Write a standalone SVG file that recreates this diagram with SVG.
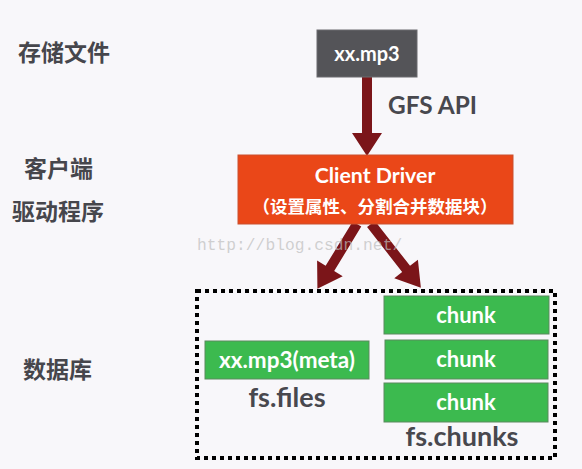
<svg xmlns="http://www.w3.org/2000/svg" width="582" height="469" viewBox="0 0 582 469">
<style>
.lbl{font-family:"Noto Sans CJK SC","Noto Sans",sans-serif;font-weight:700;font-size:23px;fill:#46464c}
.big{font-family:Lato,"Noto Sans",sans-serif;font-weight:700;fill:#48484e}
.wt{font-family:Lato,"Noto Sans","Noto Sans CJK SC",sans-serif;font-weight:700;fill:#ffffff;text-anchor:middle}
.green{fill:#3cba4f;stroke:#5a8a5e;stroke-width:1}
.arrow{fill:#7b1519}
</style>
<rect width="582" height="469" fill="#f8f7fa"/>
<g id="labels">
<text class="lbl" x="18" y="61">存储文件</text>
<text class="lbl" x="24" y="177">客户端</text>
<text class="lbl" x="12" y="220">驱动程序</text>
<text class="lbl" x="23" y="378">数据库</text>
</g>
<g id="connectors">
<path class="arrow" d="M362,77 H372 V133 H382 L367,156 L352,133 H362 Z"/>
<path class="arrow" transform="translate(357,224) rotate(31.4)" d="M-5,0 H5 V52 H15 L0,76 L-15,52 H-5 Z"/>
<path class="arrow" transform="translate(371,224) rotate(-38)" d="M-5,0 H5 V57 H15 L0,81 L-15,57 H-5 Z"/>
<text class="big" x="388" y="114" font-size="24.4">GFS API</text>
</g>
<g id="file">
<rect x="317" y="30" width="100" height="47" fill="#545458" stroke="#6a6a6e" stroke-width="1"/>
<text class="wt" x="367" y="61" font-size="20">xx.mp3</text>
</g>
<g id="driver">
<rect x="238" y="155" width="275" height="69" fill="#ea4718" stroke="#c9502e" stroke-width="1"/>
<text class="wt" x="375" y="183" font-size="21.3">Client Driver</text>
<text class="wt" x="375" y="213" font-size="17.5">（设置属性、分割合并数据块）</text>
</g>
<g id="database">
<rect x="197" y="291" width="358" height="167" fill="none" stroke="#000" stroke-width="4" stroke-dasharray="4 4"/>
</g>
<g id="meta">
<rect class="green" x="205" y="341" width="164" height="38"/>
<text class="wt" x="287" y="368" font-size="22.5">xx.mp3(meta)</text>
<text class="big" x="287" y="407" font-size="27" text-anchor="middle">fs.files</text>
</g>
<g id="chunks">
<rect class="green" x="384" y="296" width="165" height="38"/>
<text class="wt" x="466" y="323" font-size="22">chunk</text>
<rect class="green" x="385" y="340" width="163" height="39"/>
<text class="wt" x="466" y="367" font-size="22">chunk</text>
<rect class="green" x="384" y="383" width="164" height="39"/>
<text class="wt" x="466" y="410" font-size="22">chunk</text>
<text class="big" x="462" y="446" font-size="27" text-anchor="middle">fs.chunks</text>
</g>
<text x="197" y="250" font-family="Liberation Mono,monospace" font-size="16.3" fill="#bdbdbd" fill-opacity="0.7">http://blog.csdn.net/</text>
</svg>
